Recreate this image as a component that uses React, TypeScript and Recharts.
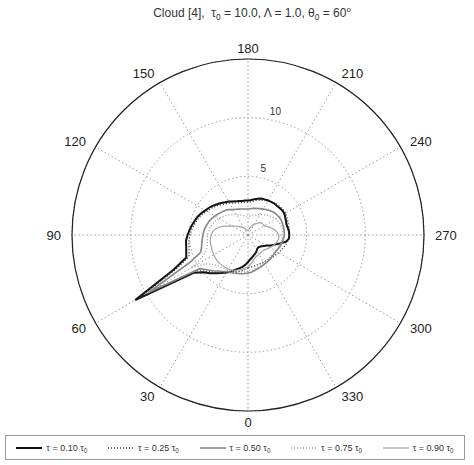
import React from "react";
import {
  RadarChart,
  Radar,
  PolarGrid,
  PolarAngleAxis,
  PolarRadiusAxis,
} from "recharts";

// ---------------------------------------------------------------------------
// Data (radius per direction, 5 degree steps, 0 = down, clockwise)
// ---------------------------------------------------------------------------

const ANGLES = Array.from({ length: 72 }, (_, i) => i * 5);

const TICK_ANGLES = [0, 30, 60, 90, 120, 150, 180, 210, 240, 270, 300, 330];
const RADIUS_LABELS = [5, 10];

const TAU_010 = [
  2.3, 2.55, 2.75, 2.95, 3.15, 3.45, 3.7, 3.95, 4.25, 4.6, 4.95, 5.6,
  11.1, 7.0, 5.6, 5.45, 5.35, 5.3, 5.15, 5.0, 4.85, 4.7, 4.57, 4.4,
  4.2, 4.05, 3.9, 3.7, 3.55, 3.4, 3.3, 3.15, 3.05, 3.0, 2.95, 2.95,
  2.95, 3.0, 3.1, 3.2, 3.3, 3.35, 3.4, 3.45, 3.5, 3.5, 3.55, 3.6,
  3.6, 3.5, 3.45, 3.4, 3.45, 3.5, 3.52, 3.5, 3.3, 2.8, 2.4, 2.1,
  1.8, 1.65, 1.5, 1.42, 1.38, 1.4, 1.5, 1.62, 1.72, 1.82, 1.95, 2.1,
];

const TAU_025 = [
  2.8, 2.95, 3.1, 3.25, 3.4, 3.55, 3.7, 3.9, 4.15, 4.45, 4.8, 5.3,
  10.8, 6.6, 5.35, 5.2, 5.1, 5.05, 4.95, 4.85, 4.7, 4.55, 4.4, 4.25,
  4.05, 3.9, 3.75, 3.55, 3.4, 3.25, 3.15, 3.0, 2.9, 2.85, 2.8, 2.8,
  2.8, 2.85, 2.95, 3.05, 3.15, 3.25, 3.35, 3.45, 3.55, 3.6, 3.65, 3.7,
  3.7, 3.65, 3.6, 3.55, 3.55, 3.55, 3.55, 3.5, 3.4, 3.3, 3.2, 3.1,
  3.0, 2.92, 2.85, 2.78, 2.72, 2.68, 2.65, 2.65, 2.65, 2.67, 2.7, 2.75,
];

const TAU_050 = [
  3.25, 3.3, 3.35, 3.4, 3.45, 3.5, 3.6, 3.8, 4.0, 4.3, 4.6, 5.0,
  9.8, 5.4, 4.3, 4.1, 4.0, 3.9, 3.85, 3.78, 3.7, 3.6, 3.5, 3.38,
  3.25, 3.12, 3.0, 2.9, 2.8, 2.65, 2.5, 2.42, 2.35, 2.3, 2.25, 2.22,
  2.22, 2.25, 2.3, 2.35, 2.4, 2.48, 2.55, 2.65, 2.75, 2.85, 2.95, 3.0,
  3.05, 3.1, 3.1, 3.1, 3.1, 3.1, 3.1, 3.05, 3.0, 2.95, 2.9, 2.82,
  2.75, 2.75, 2.75, 2.77, 2.8, 2.82, 2.85, 2.9, 2.95, 3.0, 3.1, 3.18,
];

const TAU_075 = [
  3.1, 3.15, 3.2, 3.25, 3.3, 3.35, 3.4, 3.5, 3.6, 3.7, 3.9, 4.3,
  5.5, 4.2, 3.8, 3.6, 3.5, 3.47, 3.45, 3.38, 3.3, 3.2, 3.1, 2.98,
  2.85, 2.7, 2.55, 2.4, 2.25, 2.12, 2.0, 1.9, 1.8, 1.72, 1.65, 1.62,
  1.6, 1.62, 1.65, 1.72, 1.8, 1.9, 2.0, 2.12, 2.25, 2.38, 2.5, 2.62,
  2.75, 2.82, 2.9, 2.92, 2.95, 2.95, 2.95, 2.92, 2.9, 2.85, 2.8, 2.75,
  2.7, 2.68, 2.65, 2.65, 2.65, 2.68, 2.7, 2.75, 2.8, 2.88, 2.95, 3.02,
];

const TAU_090 = [
  2.7, 2.82, 2.95, 3.08, 3.2, 3.28, 3.35, 3.38, 3.4, 3.42, 3.42, 3.4,
  3.37, 3.34, 3.3, 3.28, 3.25, 3.2, 3.15, 3.02, 2.85, 2.55, 2.2, 1.8,
  1.5, 1.3, 1.15, 1.02, 0.9, 0.8, 0.7, 0.6, 0.5, 0.45, 0.4, 0.37,
  0.35, 0.4, 0.5, 0.62, 0.75, 0.9, 1.05, 1.2, 1.35, 1.48, 1.55, 1.58,
  1.6, 1.75, 1.95, 2.15, 2.35, 2.5, 2.62, 2.65, 2.6, 2.5, 2.4, 2.28,
  2.15, 2.02, 1.92, 1.87, 1.85, 1.86, 1.9, 1.93, 1.97, 2.1, 2.3, 2.5,
];

const chartData = ANGLES.map((angle, i) => ({
  angle,
  t10: TAU_010[i],
  t25: TAU_025[i],
  t50: TAU_050[i],
  t75: TAU_075[i],
  t90: TAU_090[i],
}));

// ---------------------------------------------------------------------------
// Series configuration
// ---------------------------------------------------------------------------

const SERIES = [
  { key: "t10", label: "0.10", stroke: "#111111", width: 2, dash: undefined },
  { key: "t25", label: "0.25", stroke: "#333333", width: 1.4, dash: "1 2" },
  { key: "t50", label: "0.50", stroke: "#858585", width: 1.6, dash: undefined },
  { key: "t75", label: "0.75", stroke: "#9c9c9c", width: 1.3, dash: "1 2" },
  { key: "t90", label: "0.90", stroke: "#a2a2a2", width: 1.2, dash: undefined },
];

// chart is drawn clockwise starting at the bottom
const START_ANGLE = -90;
const END_ANGLE = -450;

// ---------------------------------------------------------------------------
// Ticks
// ---------------------------------------------------------------------------

function AngleTick(props: any) {
  const { x, y, payload, textAnchor } = props;
  if (!TICK_ANGLES.includes(payload.value)) return <g />;
  return (
    <text
      x={x}
      y={y}
      textAnchor={textAnchor}
      dominantBaseline="central"
      fontSize={13}
      fill="#222"
      fontFamily="Liberation Sans, Arial, sans-serif"
    >
      {payload.value}
    </text>
  );
}

function RadiusTick(props: any) {
  const { x, y, payload } = props;
  if (!RADIUS_LABELS.includes(payload.value)) return <g />;
  return (
    <text
      x={x + 3}
      y={y - 9}
      textAnchor="middle"
      dominantBaseline="central"
      fontSize={10}
      fill="#333"
      fontFamily="Liberation Sans, Arial, sans-serif"
    >
      {payload.value}
    </text>
  );
}

// ---------------------------------------------------------------------------
// Component
// ---------------------------------------------------------------------------

export default function App() {
  return (
    <div style={styles.page}>
      <div style={styles.title}>
        Cloud [4],&nbsp; τ<sub style={styles.sub}>0</sub> = 10.0, Λ = 1.0, θ
        <sub style={styles.sub}>0</sub> = 60<sup style={styles.sup}>o</sup>
      </div>
      <RadarChart
        width={474}
        height={465}
        data={chartData}
        cx={248}
        cy={235}
        outerRadius={176}
        startAngle={START_ANGLE}
        endAngle={END_ANGLE}
      >
        <PolarGrid
          gridType="circle"
          polarAngles={TICK_ANGLES.map((a) => START_ANGLE - a)}
          stroke="#9a9a9a"
          strokeDasharray="1.5 2.5"
        />
        <PolarAngleAxis
          dataKey="angle"
          tick={<AngleTick />}
          tickLine={false}
          tickSize={11}
          axisLineType="circle"
          axisLine={{ stroke: "#222", strokeWidth: 1.2 }}
        />
        <PolarRadiusAxis
          angle={78}
          domain={[0, 15]}
          tickCount={4}
          axisLine={false}
          tickLine={false}
          tick={<RadiusTick />}
        />
        {SERIES.map((s) => (
          <Radar
            key={s.key}
            dataKey={s.key}
            stroke={s.stroke}
            strokeWidth={s.width}
            strokeDasharray={s.dash}
            fill="none"
            fillOpacity={0}
            dot={false}
            isAnimationActive={false}
          />
        ))}
      </RadarChart>
      <div style={styles.legend}>
        {SERIES.map((s) => (
          <div key={s.key} style={styles.legendItem}>
            <svg width={26} height={6}>
              <line
                x1={0}
                y1={3}
                x2={26}
                y2={3}
                stroke={s.stroke}
                strokeWidth={s.width}
                strokeDasharray={s.dash}
              />
            </svg>
            <span>
              τ = {s.label} τ<sub style={styles.sub}>0</sub>
            </span>
          </div>
        ))}
      </div>
    </div>
  );
}

// ---------------------------------------------------------------------------
// Inline styles
// ---------------------------------------------------------------------------

const styles = {
  page: {
    position: "absolute",
    left: 0,
    top: 0,
    width: 474,
    height: 465,
    background: "#fff",
    fontFamily: "Liberation Sans, Arial, sans-serif",
  } as React.CSSProperties,

  title: {
    position: "absolute",
    left: 0,
    top: 6,
    width: 474,
    textAlign: "center",
    paddingLeft: 30,
    boxSizing: "border-box",
    fontSize: 12,
    color: "#333",
    whiteSpace: "nowrap",
  } as React.CSSProperties,

  sub: {
    fontSize: "0.7em",
    verticalAlign: "-0.35em",
    lineHeight: 0,
  } as React.CSSProperties,

  sup: {
    fontSize: "0.65em",
    verticalAlign: "0.6em",
    lineHeight: 0,
  } as React.CSSProperties,

  legend: {
    position: "absolute",
    left: 5,
    top: 435,
    width: 460,
    height: 25,
    boxSizing: "border-box",
    border: "1px solid #999",
    background: "#fff",
    display: "flex",
    alignItems: "center",
    justifyContent: "space-around",
    fontSize: 9,
    color: "#333",
  } as React.CSSProperties,

  legendItem: {
    display: "flex",
    alignItems: "center",
    gap: 4,
  } as React.CSSProperties,
} satisfies Record<string, React.CSSProperties>;
